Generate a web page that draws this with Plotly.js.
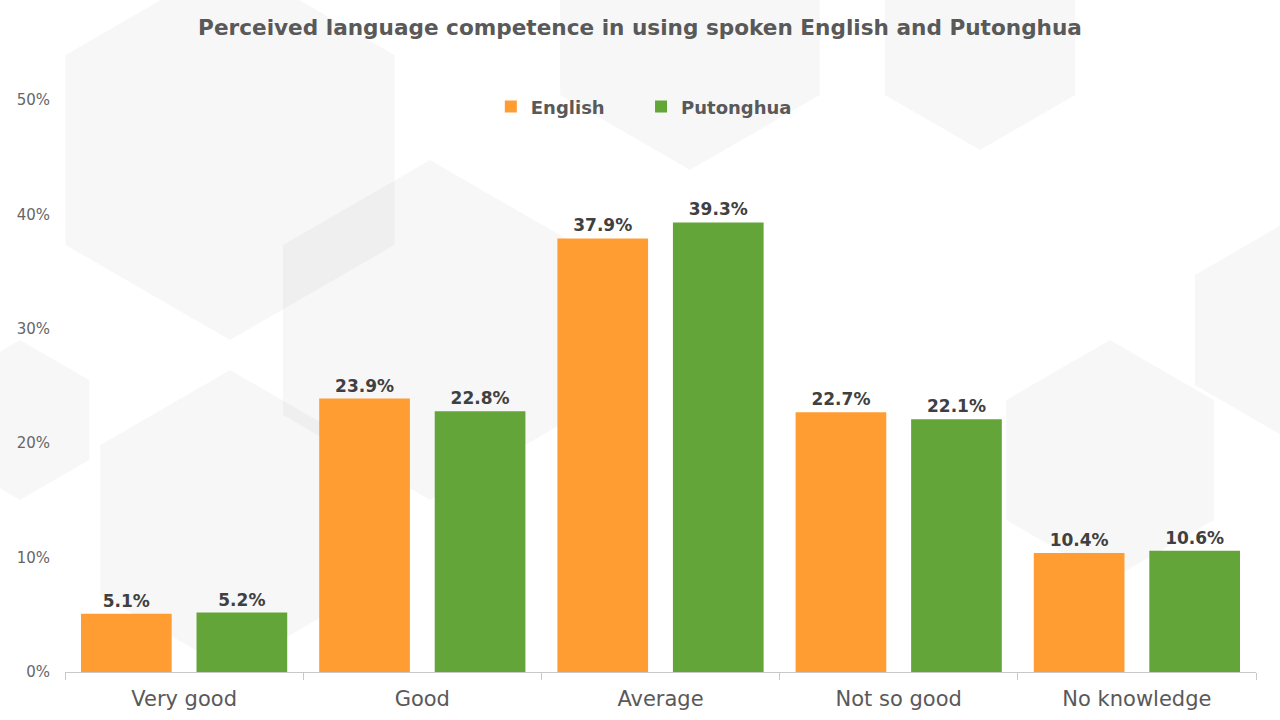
<!DOCTYPE html>
<html>
<head>
<meta charset="utf-8">
<script src="https://cdn.plot.ly/plotly-3.0.1.min.js"></script>
<style>
  html, body { margin: 0; padding: 0; background: #ffffff; }
  #chart { width: 1280px; height: 720px; }
</style>
</head>
<body>
<div id="chart"></div>
<script>
var CATEGORIES = ["Very good", "Good", "Average", "Not so good", "No knowledge"];
var ENGLISH = [5.1, 23.9, 37.9, 22.7, 10.4];
var PUTONGHUA = [5.2, 22.8, 39.3, 22.1, 10.6];
var Y_TICKS = [0, 10, 20, 30, 40, 50];
var Y_TICK_LABELS = ["0%", "10%", "20%", "30%", "40%", "50%"];

var FONT = "'DejaVu Sans', 'Open Sans', sans-serif";

// plot area in pixels, used to place the faint background hexagons
var PL = 65, PR = 1256, PT = 100, PB = 672;

function hexPath(cx, cy, r) {
  var pts = [];
  for (var i = 0; i < 6; i++) {
    var a = Math.PI / 180 * (60 * i - 90);
    var px = cx + r * Math.cos(a);
    var py = cy + r * Math.sin(a);
    pts.push(((px - PL) / (PR - PL)).toFixed(4) + "," + ((PB - py) / (PB - PT)).toFixed(4));
  }
  return "M" + pts.join("L") + "Z";
}

var HEXES = [
  [230, 150, 190], [430, 330, 170], [690, 20, 150], [980, 40, 110],
  [230, 520, 150], [1110, 460, 120], [1290, 330, 110], [20, 420, 80]
];

var shapes = HEXES.map(function (h) {
  return {
    type: "path", xref: "paper", yref: "paper", layer: "below",
    path: hexPath(h[0], h[1], h[2]),
    fillcolor: "rgba(0,0,0,0.03)", line: { width: 0 }
  };
});

function labels(arr) {
  return arr.map(function (v) { return v.toFixed(1) + "%"; });
}

// trailing no-break spaces widen the first legend entry
var PAD = "\u00a0\u00a0\u00a0\u00a0\u00a0";

var traceEn = {
  type: "bar", name: "English" + PAD, x: CATEGORIES, y: ENGLISH,
  marker: { color: "#FF9D33" },
  text: labels(ENGLISH), textposition: "outside", cliponaxis: false,
  textfont: { family: FONT, size: 17, color: "#404040", weight: "bold" },
  hoverinfo: "skip"
};
var tracePu = {
  type: "bar", name: "Putonghua", x: CATEGORIES, y: PUTONGHUA,
  marker: { color: "#63A538" },
  text: labels(PUTONGHUA), textposition: "outside", cliponaxis: false,
  textfont: { family: FONT, size: 17, color: "#404040", weight: "bold" },
  hoverinfo: "skip"
};

var layout = {
  width: 1280, height: 720,
  margin: { l: PL, r: 1280 - PR, t: PT, b: 720 - PB },
  paper_bgcolor: "#ffffff", plot_bgcolor: "rgba(0,0,0,0)",
  font: { family: FONT, color: "#595959" },
  title: {
    text: "<b>Perceived language competence in using spoken English and Putonghua</b>",
    x: 0.5, xanchor: "center", y: 0.962, yanchor: "middle",
    font: { family: FONT, size: 21.6, color: "#595959" }
  },
  barmode: "group", bargap: 0.03, bargroupgap: 0.215,
  showlegend: true,
  legend: {
    orientation: "h", x: 0.486, xanchor: "center", y: 0.988, yanchor: "middle",
    font: { family: FONT, size: 18, color: "#595959", weight: "bold" },
    itemwidth: 30, tracegroupgap: 0, bgcolor: "rgba(0,0,0,0)"
  },
  xaxis: {
    showgrid: false, showline: true, linecolor: "#c8c8c8", linewidth: 1,
    ticks: "outside", tickson: "boundaries", ticklen: 7, tickcolor: "#c8c8c8",
    ticklabelstandoff: 8,
    tickfont: { family: FONT, size: 21, color: "#595959" }, fixedrange: true
  },
  yaxis: {
    range: [0, 50], tickvals: Y_TICKS, ticktext: Y_TICK_LABELS,
    showgrid: false, zeroline: false, showline: false, ticks: "",
    ticklabelstandoff: 14,
    tickfont: { family: FONT, size: 15, color: "#666666" }, fixedrange: true
  },
  shapes: shapes
};

Plotly.newPlot("chart", [traceEn, tracePu], layout, { displayModeBar: false, staticPlot: true });
</script>
</body>
</html>
